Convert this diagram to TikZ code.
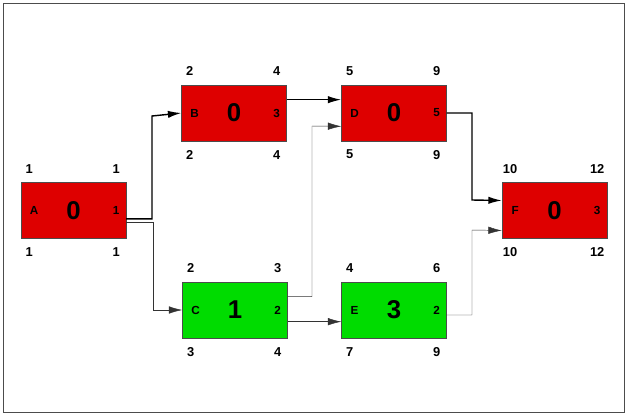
\documentclass[tikz,border=0pt]{standalone}
\usepackage{fontspec}
\setmainfont{Liberation Sans}
\usetikzlibrary{arrows.meta}
\tikzset{>={Latex[width=2.2mm,length=4mm]}}
\definecolor{actred}{RGB}{222,0,0}
\definecolor{actgreen}{RGB}{0,220,0}
\tikzset{
  box/.style = {draw=black!70, minimum width=3.15cm, minimum height=1.68cm, inner sep=0pt},
  num/.style = {font=\bfseries\fontsize{11}{11}\selectfont},
  main/.style = {very thick},
  side/.style = {thin, black!80}
}
\newcommand{\activity}[9]{%
  \node[box, fill=#2] (#1) at (#3) {};
  \node[font=\bfseries\fontsize{10}{10}\selectfont] at ([xshift=0.4cm]#1.west) {#1};
  \node[font=\bfseries\fontsize{22}{22}\selectfont] at (#1.center) {#4};
  \node[num, font=\bfseries\fontsize{10}{10}\selectfont] at ([xshift=-0.3cm]#1.east) {#5};
  \node[num] at ([xshift=0.25cm,yshift=0.4cm]#1.north west) {#6};
  \node[num] at ([xshift=-0.3cm,yshift=0.4cm]#1.north east) {#7};
  \node[num] at ([xshift=0.25cm,yshift=-0.4cm]#1.south west) {#8};
  \node[num] at ([xshift=-0.3cm,yshift=-0.4cm]#1.south east) {#9};
}
\begin{document}
\begin{tikzpicture}[x=0.03cm, y=-0.03cm]
\useasboundingbox (0,0) rectangle (628,415);
\draw[black!70, line width=0.8pt] (3,3) rectangle (624,412);
% activities
\activity{A}{actred}{73.5,210.5}{0}{1}{1}{1}{1}{1}
\activity{B}{actred}{234,113}{0}{3}{2}{4}{2}{4}
\activity{C}{actgreen}{235,310}{1}{2}{2}{3}{3}{4}
\activity{D}{actred}{394,113}{0}{5}{5}{9}{5}{9}
\activity{E}{actgreen}{394,310}{3}{2}{4}{6}{7}{9}
\activity{F}{actred}{554.5,210.5}{0}{3}{10}{12}{10}{12}
% connectors
\draw[main, ->] ([yshift=-0.25cm]A.east) -| (152,116) -- (B.west);
\draw[side, ->] ([yshift=-0.35cm]A.east) -| (153,310) -- (C.west);
\draw[main, ->] ([yshift=0.4cm]B.east) -- ([yshift=0.4cm]D.west);
\draw[side, ->] ([yshift=0.4cm]C.east) -| (312,126) -- ([yshift=-0.4cm]D.west);
\draw[side, ->] ([yshift=-0.35cm]C.east) -- ([yshift=-0.35cm]E.west);
\draw[main, ->] (D.east) -| (472,200) -- ([yshift=0.3cm]F.west);
\draw[side, ->] ([yshift=-0.15cm]E.east) -| (472,230) -- ([yshift=-0.6cm]F.west);
\end{tikzpicture}
\end{document}
